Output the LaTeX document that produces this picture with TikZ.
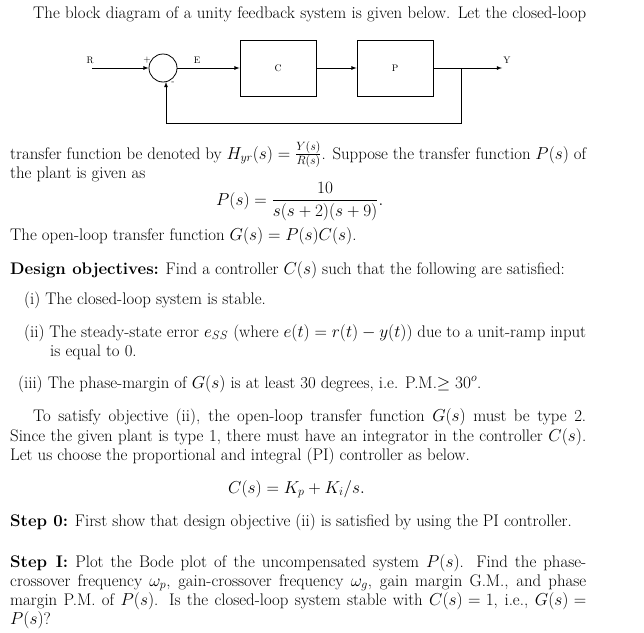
\documentclass[tikz,border=0pt]{standalone}
\usepackage{amsmath,amssymb}
\begin{document}
\begin{tikzpicture}[x=1pt,y=-1pt,
  blk/.style={draw,line width=0.8pt,minimum width=76pt,minimum height=56pt,font=\fontsize{9.5}{10}\selectfont},
  lbl/.style={font=\fontsize{9.5}{10}\selectfont,inner sep=1pt},
  ln/.style={anchor=base west,inner sep=0pt,font=\fontsize{16.8}{19}\selectfont},
  wire/.style={line width=0.8pt},
  arr/.style={wire,-latex}]
\useasboundingbox (0,0) rectangle (644,632);
\newcommand{\jl}[2]{\hbox to #1pt{\medmuskip=4mu plus 1mu\thickmuskip=5mu plus 1mu #2}}
% diagram
\coordinate (r) at (92,68);
\node[draw,circle,line width=0.8pt,minimum size=28pt,inner sep=0pt] (sum) at (163,68) {};
\node[blk] (c) at (278,68) {C};
\node[blk] (p) at (395,68) {P};
\coordinate (br) at (461,68);
\coordinate (y) at (502,68);
\coordinate (fb) at (461,123);
\coordinate (fl) at (166,123);
\draw[arr] (r) -- (sum.west);
\draw[arr] (sum.east) -- (c.west);
\draw[arr] (c.east) -- (p.west);
\draw[arr] (p.east) -- (y);
\draw[wire] (br) -- (fb) -- (fl);
\draw[arr] (fl) -- (166,82);
\node[lbl] (rl) at (90,60) {R};
\node[lbl] (el) at (197,60) {E};
\node[lbl] (yl) at (507,60) {Y};
\node[lbl] (pl) at (147,60) {+};
\node[lbl] (ml) at (173,83) {-};
% text
\node[ln] (t1) at (33,18) {\jl{553}{The block diagram of a unity feedback system is given below. Let the closed-loop}};
\node[ln] (t2) at (10,159) {\jl{576}{transfer function be denoted by $H_{yr}(s)=\frac{Y(s)}{R(s)}$. Suppose the transfer function $P(s)$ of}};
\node[ln] (t3) at (10,178) {the plant is given as};
\node[ln] (t4) at (216,205) {$P(s)=\dfrac{10}{s(s+2)(s+9)}.$};
\node[ln] (t5) at (10,240) {The open-loop transfer function $G(s)=P(s)C(s)$.};
\node[ln] (t6) at (10,274) {\textbf{Design objectives:} Find a controller $C(s)$ such that the following are satisfied:};
\node[ln] (t7) at (24,304) {(i) The closed-loop system is stable.};
\node[ln] (t8) at (24,337) {\jl{562}{(ii) The steady-state error $e_{SS}$ (where $e(t)=r(t)-y(t)$) due to a unit-ramp input}};
\node[ln] (t9) at (50,356) {is equal to 0.};
\node[ln] (t10) at (18,388) {(iii) The phase-margin of $G(s)$ is at least 30 degrees, i.e. P.M.$\geq 30^o$.};
\node[ln] (t11) at (33,421) {\jl{553}{To satisfy objective (ii), the open-loop transfer function $G(s)$ must be type 2.}};
\node[ln] (t12) at (10,441) {\jl{576}{Since the given plant is type 1, there must have an integrator in the controller $C(s)$.}};
\node[ln] (t13) at (10,460) {Let us choose the proportional and integral (PI) controller as below.};
\node[ln] (t14) at (228,493) {$C(s)=K_p+K_i/s.$};
\node[ln] (t15) at (10,526) {\textbf{Step 0:} First show that design objective (ii) is satisfied by using the PI controller.};
\node[ln] (t16) at (10,567) {\jl{576}{\textbf{Step I:} Plot the Bode plot of the uncompensated system $P(s)$. Find the phase-}};
\node[ln] (t17) at (10,586) {\jl{576}{crossover frequency $\omega_p$, gain-crossover frequency $\omega_g$, gain margin G.M., and phase}};
\node[ln] (t18) at (10,605) {\jl{576}{margin P.M. of $P(s)$. Is the closed-loop system stable with $C(s)=1$, i.e., $G(s)=$}};
\node[ln] (t19) at (10,624) {$P(s)$?};
\end{tikzpicture}
\end{document}
